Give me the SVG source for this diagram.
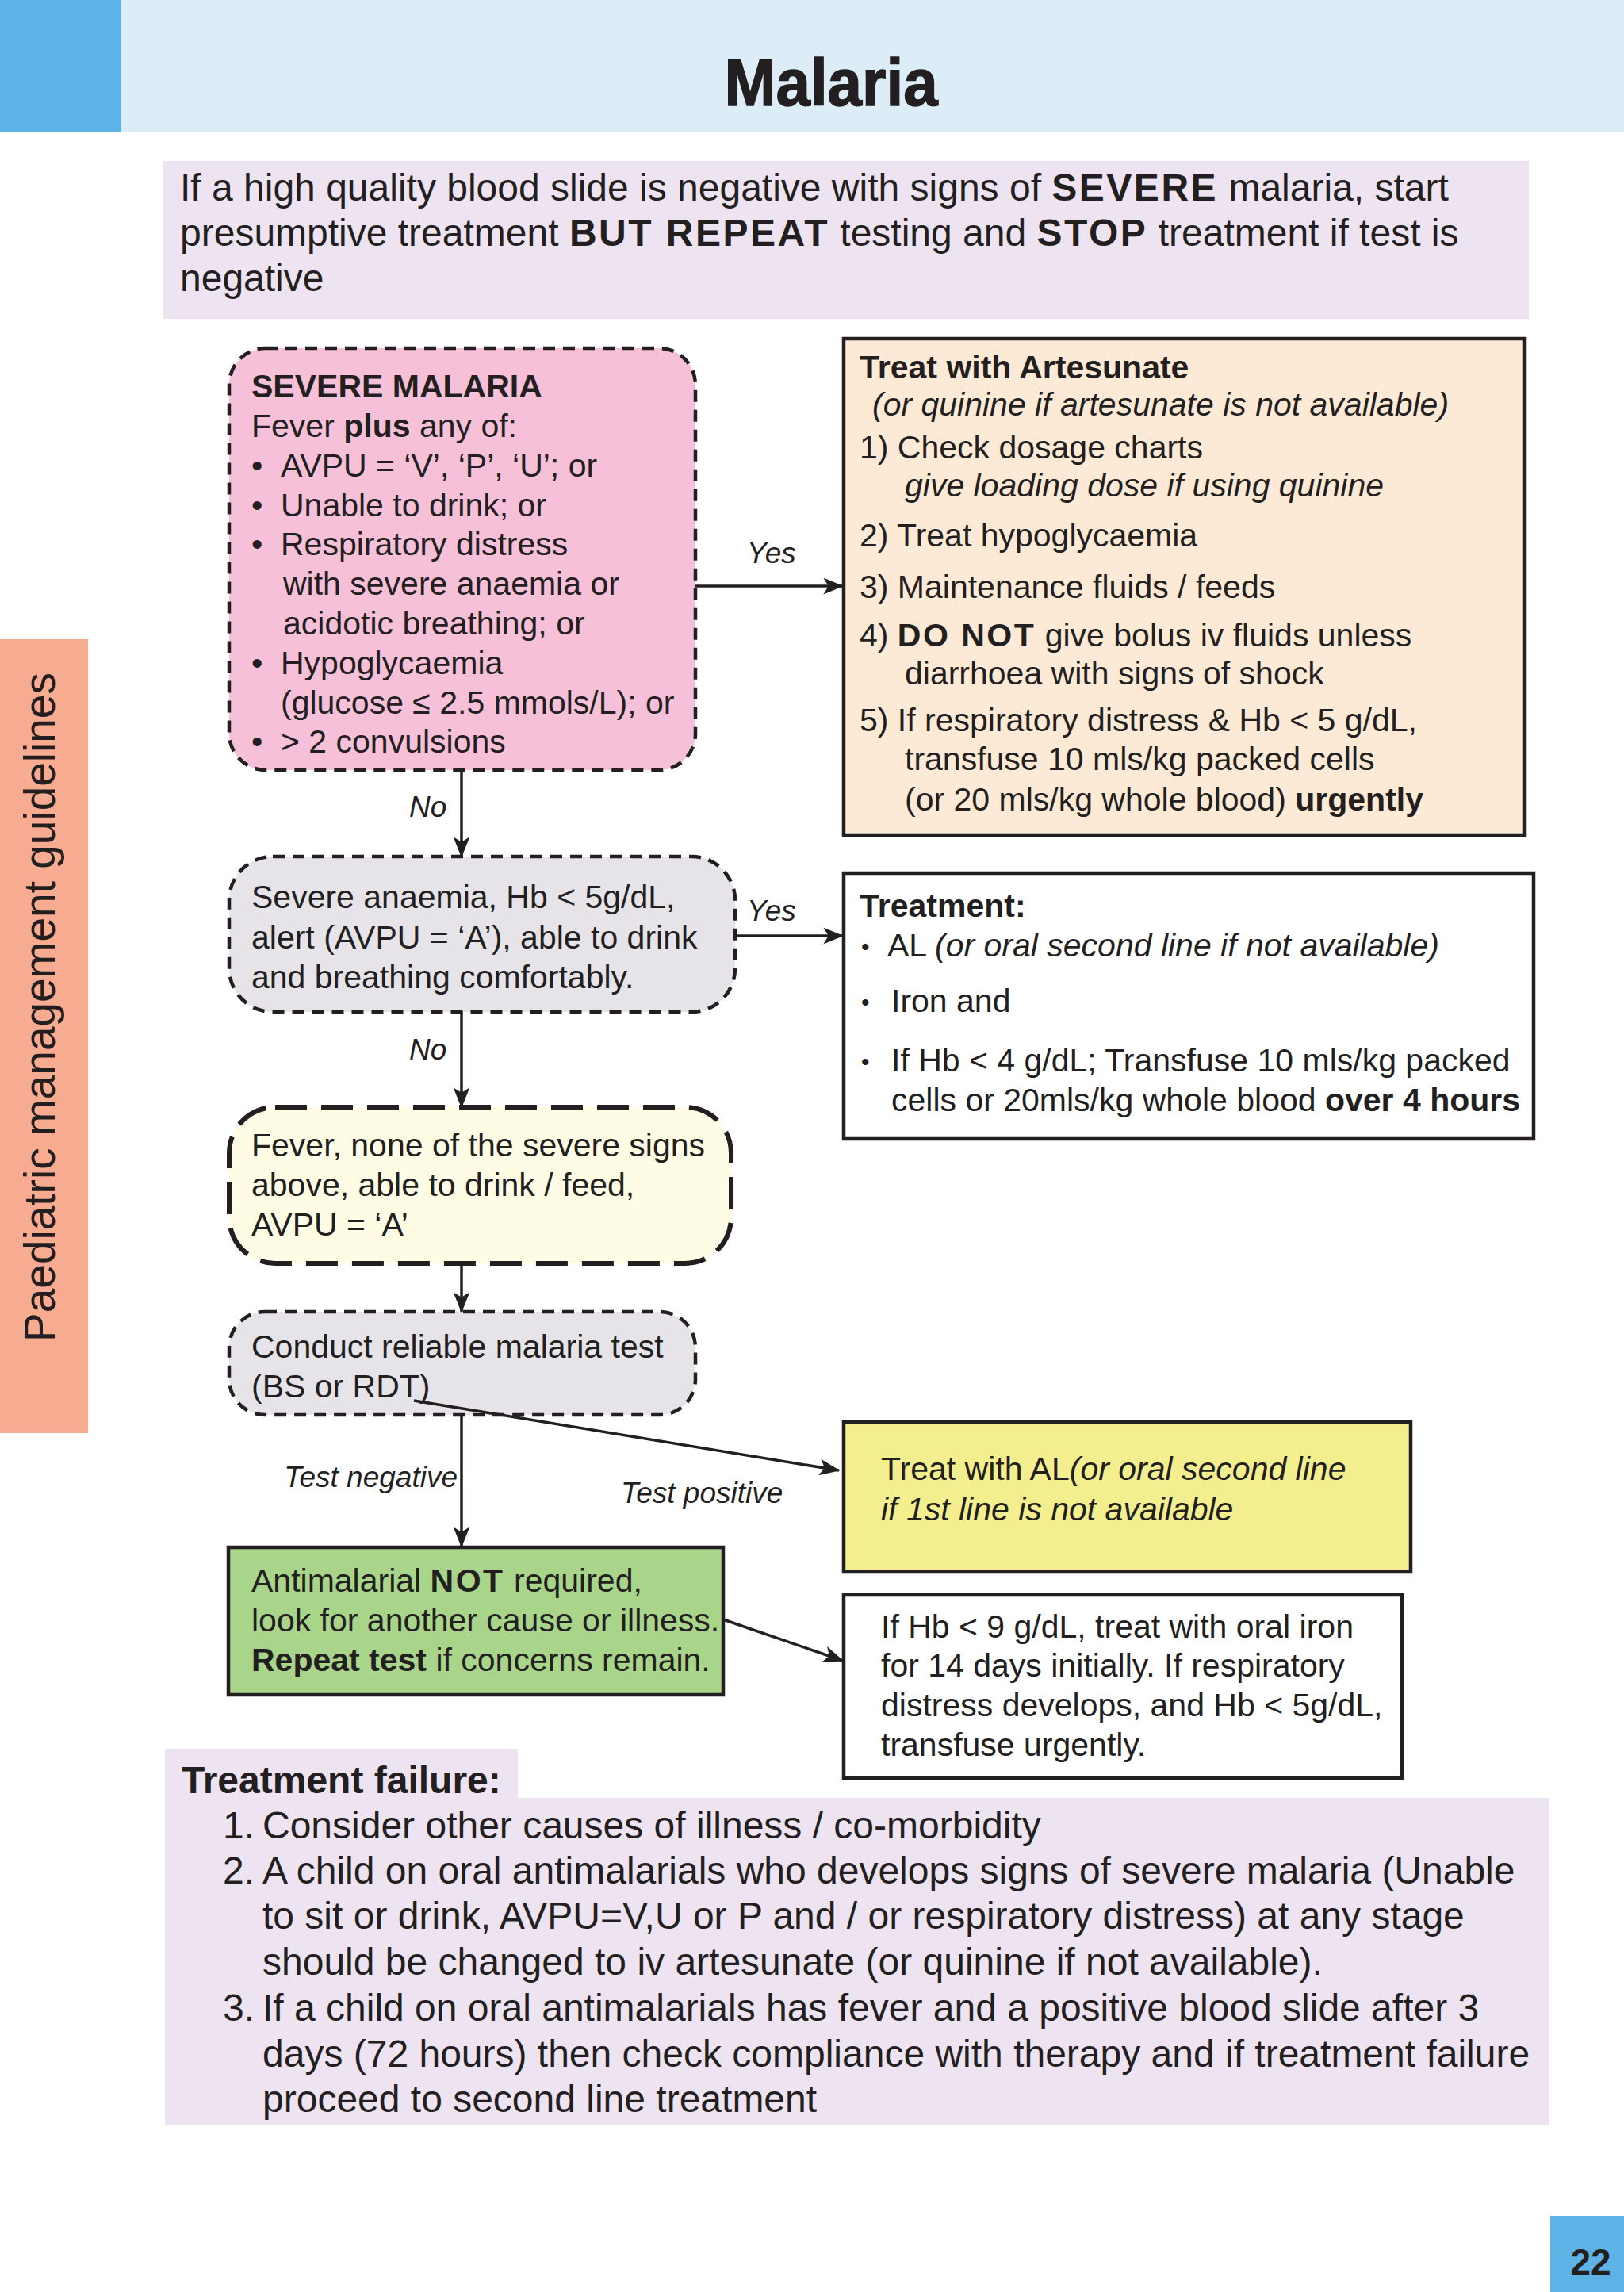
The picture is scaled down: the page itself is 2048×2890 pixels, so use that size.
<svg xmlns="http://www.w3.org/2000/svg" width="2048" height="2890" viewBox="0 0 2048 2890">
<style>
text{font-family:"Liberation Sans",Arial,sans-serif;fill:#231f20}
.t{font-size:41px}
.b{font-weight:bold}
.i{font-style:italic}
.sp{letter-spacing:2.5px}
.lab{font-size:37px;font-style:italic}
.big{font-size:48px}
.conn{stroke:#231f20;stroke-width:3.5;fill:none;marker-end:url(#ah)}
.box{stroke:#231f20;stroke-width:4.5}
.dash{stroke:#231f20;stroke-width:4.5;stroke-dasharray:15 10}
.ldash{stroke:#231f20;stroke-width:6;stroke-dasharray:40 18}
</style>
<defs>
<marker id="ah" viewBox="0 0 20 16" refX="19" refY="8" markerWidth="26" markerHeight="21" markerUnits="userSpaceOnUse" orient="auto">
<path d="M0,0 L20,8 L0,16 L5,8 z" fill="#231f20"/>
</marker>
</defs>
<rect width="2048" height="2890" fill="#ffffff"/>
<g id="header">
<rect x="0" y="0" width="2048" height="167" fill="#ddedf8"/>
<rect x="0" y="0" width="153" height="167" fill="#5db3e6"/>
<text x="1048" y="133" text-anchor="middle" font-size="84" font-weight="bold" stroke="#231f20" stroke-width="1.5" transform="translate(1048 0) scale(0.93 1) translate(-1048 0)">Malaria</text>
</g>
<g id="intro">
<rect x="206" y="203" width="1722" height="199" fill="#eee4f1"/>
<text class="big" x="227" y="253">If a high quality blood slide is negative with signs of <tspan class="b sp">SEVERE</tspan> malaria, start</text>
<text class="big" x="227" y="310">presumptive treatment <tspan class="b sp">BUT REPEAT</tspan> testing and <tspan class="b sp">STOP</tspan> treatment if test is</text>
<text class="big" x="227" y="367">negative</text>
</g>
<g id="side-tab">
<rect x="0" y="806" width="111" height="1001" fill="#f7ab90"/>
<text x="0" y="0" font-size="55" text-anchor="middle" transform="translate(69 1270) rotate(-90)">Paediatric management guidelines</text>
</g>
<g id="severe-malaria">
<rect class="dash" x="289" y="439" width="588" height="532" rx="46" fill="#f7c0d9"/>
<text class="t b" x="317" y="501">SEVERE MALARIA</text>
<text class="t" x="317" y="551">Fever <tspan class="b">plus</tspan> any of:</text>
<text class="t" x="317" y="601">•</text><text class="t" x="354" y="601">AVPU = ‘V’, ‘P’, ‘U’; or</text>
<text class="t" x="317" y="651">•</text><text class="t" x="354" y="651">Unable to drink; or</text>
<text class="t" x="317" y="700">•</text><text class="t" x="354" y="700">Respiratory distress</text>
<text class="t" x="357" y="750">with severe anaemia or</text>
<text class="t" x="357" y="800">acidotic breathing; or</text>
<text class="t" x="317" y="850">•</text><text class="t" x="354" y="850">Hypoglycaemia</text>
<text class="t" x="354" y="900">(glucose ≤ 2.5 mmols/L); or</text>
<text class="t" x="317" y="949">•</text><text class="t" x="354" y="949">&gt; 2 convulsions</text>
</g>
<g id="treat-artesunate">
<rect class="box" x="1064" y="427" width="859" height="626" fill="#fdead6"/>
<text class="t b" x="1084" y="477">Treat with Artesunate</text>
<text class="t i" x="1100" y="524">(or quinine if artesunate is not available)</text>
<text class="t" x="1084" y="578">1) Check dosage charts</text>
<text class="t i" x="1141" y="626">give loading dose if using quinine</text>
<text class="t" x="1084" y="689">2) Treat hypoglycaemia</text>
<text class="t" x="1084" y="754">3) Maintenance fluids / feeds</text>
<text class="t" x="1084" y="815">4) <tspan class="b sp">DO NOT</tspan> give bolus iv fluids unless</text>
<text class="t" x="1141" y="863">diarrhoea with signs of shock</text>
<text class="t" x="1084" y="922">5) If respiratory distress &amp; Hb &lt; 5 g/dL,</text>
<text class="t" x="1141" y="971">transfuse 10 mls/kg packed cells</text>
<text class="t" x="1141" y="1022">(or 20 mls/kg whole blood) <tspan class="b">urgently</tspan></text>
</g>
<g id="severe-anaemia">
<rect class="dash" x="289" y="1080" width="638" height="196" rx="55" fill="#e6e4e9"/>
<text class="t" x="317" y="1145">Severe anaemia, Hb &lt; 5g/dL,</text>
<text class="t" x="317" y="1196">alert (AVPU = ‘A’), able to drink</text>
<text class="t" x="317" y="1246">and breathing comfortably.</text>
</g>
<g id="treatment">
<rect class="box" x="1064" y="1101" width="870" height="335" fill="#ffffff"/>
<text class="t b" x="1084" y="1156">Treatment:</text>
<text font-size="30" x="1086" y="1204">•</text><text class="t" x="1119" y="1206">AL <tspan class="i">(or oral second line if not available)</tspan></text>
<text font-size="30" x="1086" y="1274">•</text><text class="t" x="1124" y="1276">Iron and</text>
<text font-size="30" x="1086" y="1349">•</text><text class="t" x="1124" y="1351">If Hb &lt; 4 g/dL; Transfuse 10 mls/kg packed</text>
<text class="t" x="1124" y="1401">cells or 20mls/kg whole blood <tspan class="b">over 4 hours</tspan></text>
</g>
<g id="fever">
<rect class="ldash" x="289" y="1396" width="633" height="197" rx="58" fill="#fefce4"/>
<text class="t" x="317" y="1458">Fever, none of the severe signs</text>
<text class="t" x="317" y="1508">above, able to drink / feed,</text>
<text class="t" x="317" y="1558">AVPU = ‘A’</text>
</g>
<g id="conduct-test">
<rect class="dash" x="289" y="1654" width="588" height="130" rx="45" fill="#e6e4e9"/>
<text class="t" x="317" y="1712">Conduct reliable malaria test</text>
<text class="t" x="317" y="1762">(BS or RDT)</text>
</g>
<g id="treat-al">
<rect class="box" x="1064" y="1793" width="715" height="189" fill="#f3ef8f"/>
<text class="t" x="1111" y="1866">Treat with AL<tspan class="i">(or oral second line</tspan></text>
<text class="t i" x="1111" y="1917">if 1st line is not available</text>
</g>
<g id="antimalarial-not-required">
<rect class="box" x="288" y="1951" width="624" height="186" fill="#a9d58b"/>
<text class="t" x="317" y="2007">Antimalarial <tspan class="b sp">NOT</tspan> required,</text>
<text class="t" x="317" y="2057">look for another cause or illness.</text>
<text class="t" x="317" y="2107"><tspan class="b">Repeat test</tspan> if concerns remain.</text>
</g>
<g id="oral-iron">
<rect class="box" x="1064" y="2011" width="704" height="231" fill="#ffffff"/>
<text class="t" x="1111" y="2065">If Hb &lt; 9 g/dL, treat with oral iron</text>
<text class="t" x="1111" y="2114">for 14 days initially. If respiratory</text>
<text class="t" x="1111" y="2164">distress develops, and Hb &lt; 5g/dL,</text>
<text class="t" x="1111" y="2214">transfuse urgently.</text>
</g>
<g id="connectors">
<line class="conn" x1="877" y1="739" x2="1063" y2="739"/>
<line class="conn" x1="582" y1="971" x2="582" y2="1080"/>
<line class="conn" x1="927" y1="1180" x2="1063" y2="1180"/>
<line class="conn" x1="582" y1="1276" x2="582" y2="1396"/>
<line class="conn" x1="582" y1="1593" x2="582" y2="1654"/>
<line class="conn" x1="522" y1="1766" x2="1058" y2="1854"/>
<line class="conn" x1="582" y1="1784" x2="582" y2="1950"/>
<line class="conn" x1="912" y1="2042" x2="1063" y2="2094"/>
<text class="lab" x="942" y="710">Yes</text>
<text class="lab" x="516" y="1030">No</text>
<text class="lab" x="942" y="1161">Yes</text>
<text class="lab" x="516" y="1336">No</text>
<text class="lab" x="577" y="1875" text-anchor="end">Test negative</text>
<text class="lab" x="783" y="1895">Test positive</text>
</g>
<g id="treatment-failure">
<rect x="208" y="2205" width="445" height="64" fill="#eee4f1"/>
<rect x="208" y="2267" width="1746" height="413" fill="#eee4f1"/>
<text class="big b" x="229" y="2261">Treatment failure:</text>
<text class="big" x="281" y="2318">1.</text><text class="big" x="331" y="2318">Consider other causes of illness / co-morbidity</text>
<text class="big" x="281" y="2375">2.</text><text class="big" x="331" y="2375">A child on oral antimalarials who develops signs of severe malaria (Unable</text>
<text class="big" x="331" y="2432">to sit or drink, AVPU=V,U or P and / or respiratory distress) at any stage</text>
<text class="big" x="331" y="2490">should be changed to iv artesunate (or quinine if not available).</text>
<text class="big" x="281" y="2548">3.</text><text class="big" x="331" y="2548">If a child on oral antimalarials has fever and a positive blood slide after 3</text>
<text class="big" x="331" y="2606">days (72 hours) then check compliance with therapy and if treatment failure</text>
<text class="big" x="331" y="2663">proceed to second line treatment</text>
</g>
<g id="page-number">
<rect x="1955" y="2794" width="93" height="96" fill="#5db3e6"/>
<text x="2006" y="2868" font-size="46" font-weight="bold" text-anchor="middle">22</text>
</g>
</svg>
